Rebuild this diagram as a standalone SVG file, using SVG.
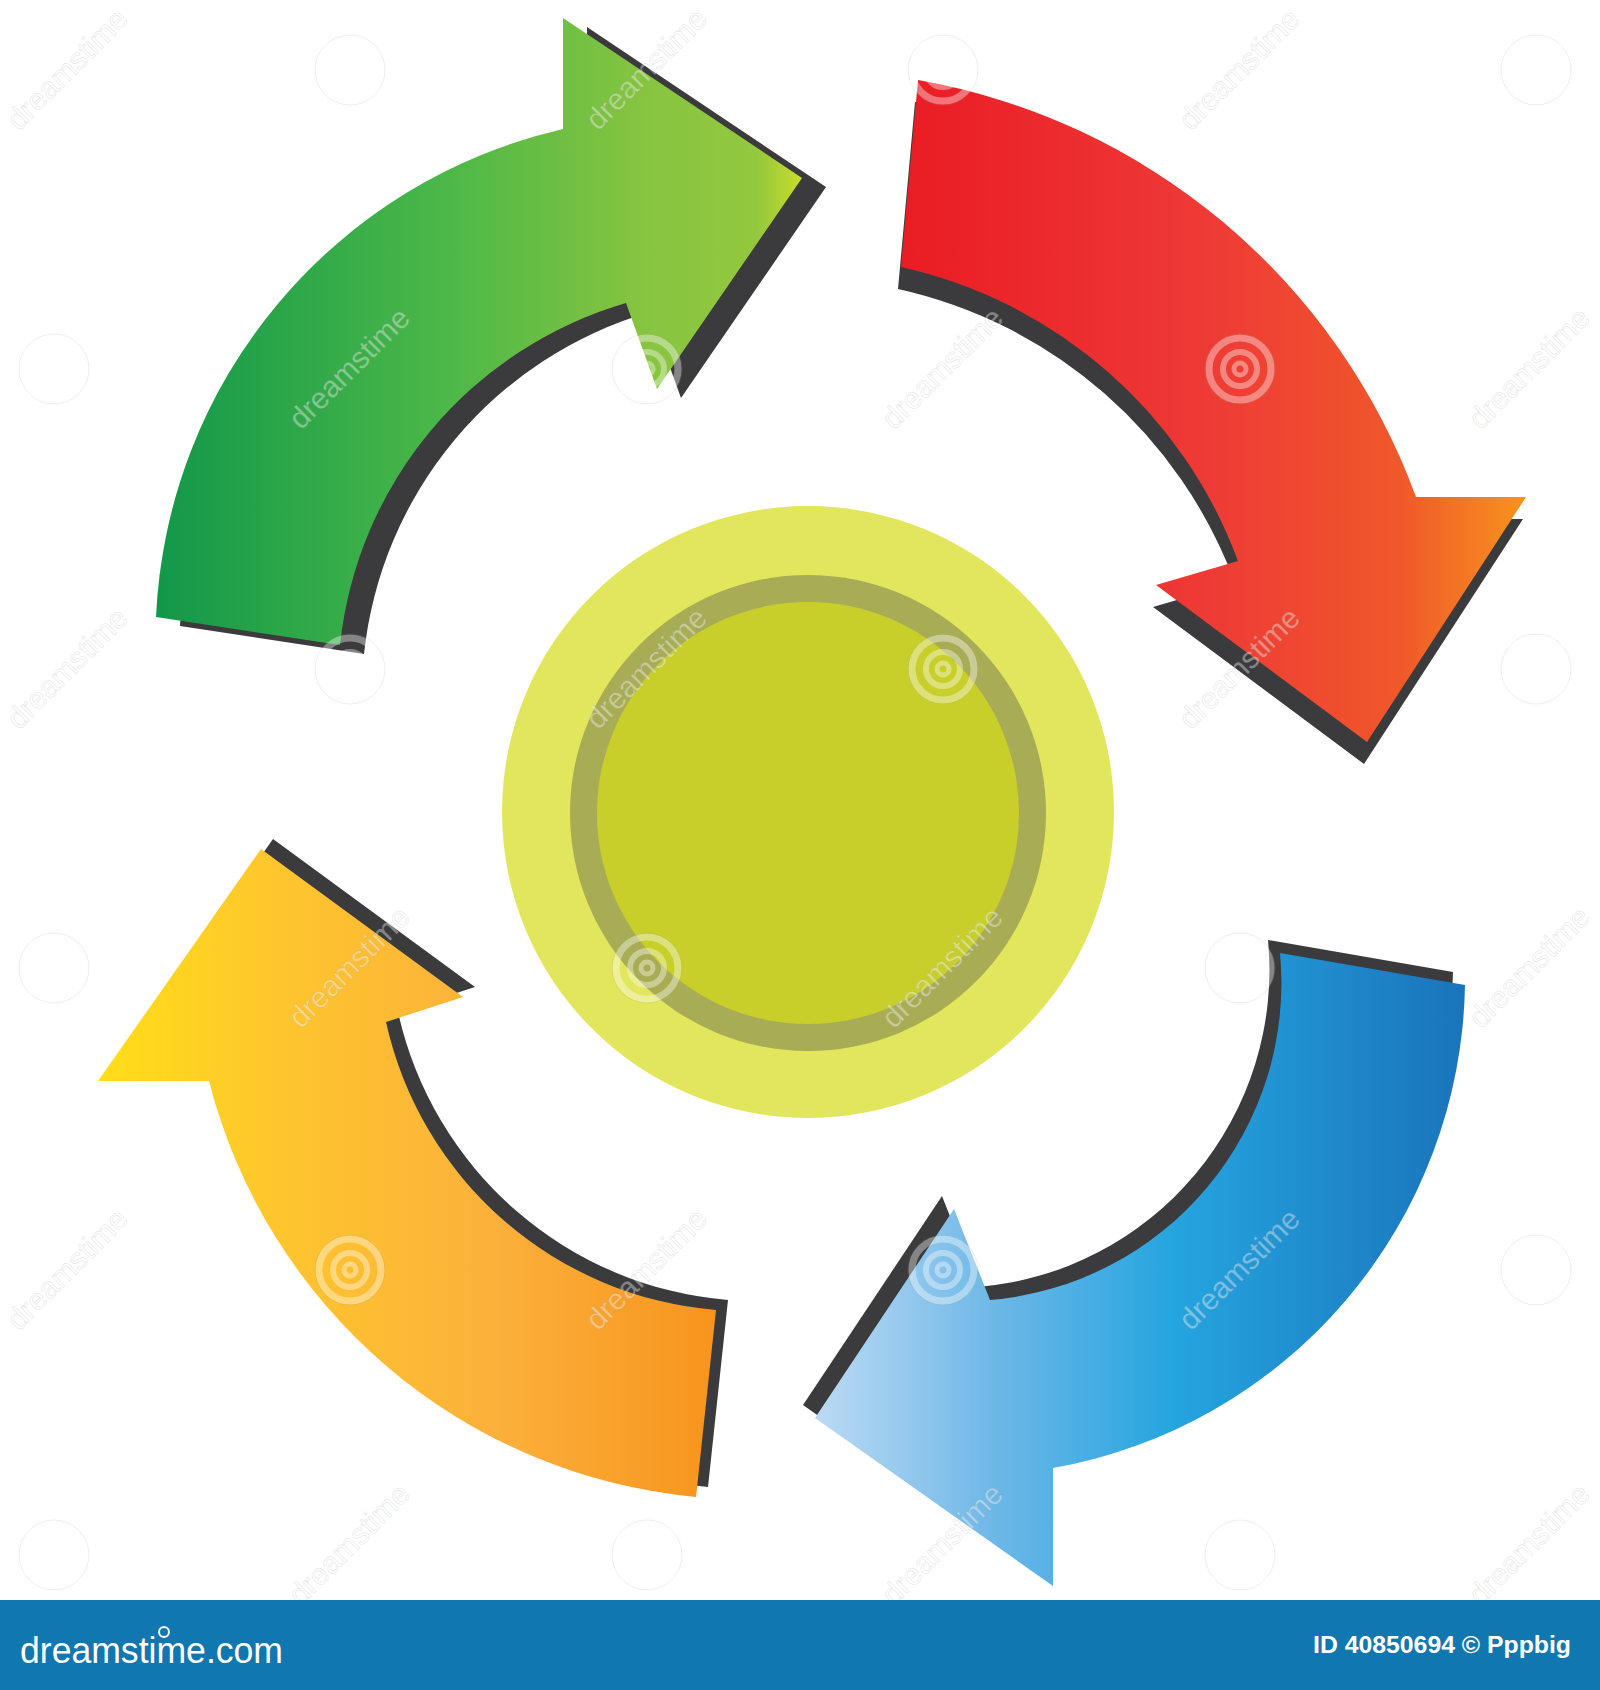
<svg xmlns="http://www.w3.org/2000/svg" width="1600" height="1690" viewBox="0 0 1600 1690">
<style>
.shadow{fill:#3b3b3d}
.wm{font-family:"Liberation Sans",Arial,sans-serif;font-size:30px;fill:#ffffff;fill-opacity:.38;stroke:#8c8c8c;stroke-opacity:.2;stroke-width:.8;text-anchor:middle}
.sp{fill:none;stroke:#ffffff;stroke-opacity:.38}
.spo{fill:none;stroke:#9a9a9a;stroke-opacity:.18;stroke-width:1}
.logo{font-family:"Liberation Sans",Arial,sans-serif;font-size:36px;fill:#ffffff}
.credit{font-family:"Liberation Sans",Arial,sans-serif;font-size:24px;font-weight:bold;fill:#ffffff;text-anchor:end}
</style>
<defs>
<linearGradient id="gGreen" x1="0" y1="0" x2="1" y2="0">
<stop offset="0" stop-color="#12984a"/>
<stop offset="0.45" stop-color="#4cb848"/>
<stop offset="0.75" stop-color="#86c440"/>
<stop offset="0.93" stop-color="#93c83e"/>
<stop offset="1" stop-color="#cadc2a"/>
</linearGradient>
<linearGradient id="gRed" x1="0" y1="0" x2="1" y2="0">
<stop offset="0" stop-color="#ea1c24"/>
<stop offset="0.5" stop-color="#ee3b36"/>
<stop offset="0.8" stop-color="#f0582a"/>
<stop offset="1" stop-color="#f7941d"/>
</linearGradient>
<linearGradient id="gBlue" x1="0" y1="0" x2="1" y2="0">
<stop offset="0" stop-color="#bcdaf3"/>
<stop offset="0.28" stop-color="#6cb7e7"/>
<stop offset="0.55" stop-color="#25a5df"/>
<stop offset="1" stop-color="#1a74bb"/>
</linearGradient>
<linearGradient id="gYellow" x1="0" y1="0" x2="1" y2="0">
<stop offset="0" stop-color="#ffde17"/>
<stop offset="0.3" stop-color="#fec52e"/>
<stop offset="0.65" stop-color="#fbb03b"/>
<stop offset="1" stop-color="#f7941d"/>
</linearGradient>
<path id="greenShape" d="M156 617 A525 525 0 0 1 563 129 L563 18 L802 178 L657 389 L626 303 A400 400 0 0 0 340 645 Z"/>
<path id="redShape" d="M918 80 A650 650 0 0 1 1416 497 L1526 497 L1367 742 L1156 585 L1238 561 A467 467 0 0 0 901 267 Z"/>
<path id="blueShape" d="M1465 985 A499 499 0 0 1 1053 1468 L1053 1586 L815 1418 L954 1209 L990 1300 A318 318 0 0 0 1280 953 Z"/>
<path id="yellowShape" d="M696 1497 A556 556 0 0 1 209 1081 L98 1081 L261 849 L463 997 L386 1022 A369 369 0 0 0 716 1310 Z"/>
<g id="spiral">
<circle r="31" class="sp" stroke-width="7"/>
<circle r="17" class="sp" stroke-width="6"/>
<circle r="6" class="sp" stroke-width="5"/>
<circle r="35" class="spo"/>
</g>
</defs>

<rect x="0" y="0" width="1600" height="1690" fill="#ffffff"/>

<g id="center-node">
<circle cx="808" cy="812" r="306" fill="#e2e65c"/>
<circle cx="808" cy="813" r="238" fill="#a8ad55"/>
<circle cx="808" cy="813" r="211" fill="#c8cf2b"/>
</g>

<g id="connectors">
<g id="arrow-green">
<use href="#greenShape" class="shadow" transform="translate(24,9)"/>
<use href="#greenShape" fill="url(#gGreen)"/>
</g>
<g id="arrow-red">
<use href="#redShape" class="shadow" transform="translate(-3,22)"/>
<use href="#redShape" fill="url(#gRed)"/>
</g>
<g id="arrow-blue">
<use href="#blueShape" class="shadow" transform="translate(-12,-13)"/>
<use href="#blueShape" fill="url(#gBlue)"/>
</g>
<g id="arrow-yellow">
<use href="#yellowShape" class="shadow" transform="translate(12,-10)"/>
<use href="#yellowShape" fill="url(#gYellow)"/>
</g>
</g>

<g id="watermark">
<text class="wm" transform="translate(68,70) rotate(-45)" y="9">dreamstime</text>
<text class="wm" transform="translate(647,70) rotate(-45)" y="9">dreamstime</text>
<text class="wm" transform="translate(1240,70) rotate(-45)" y="9">dreamstime</text>
<text class="wm" transform="translate(350,369) rotate(-45)" y="9">dreamstime</text>
<text class="wm" transform="translate(943,369) rotate(-45)" y="9">dreamstime</text>
<text class="wm" transform="translate(1530,369) rotate(-45)" y="9">dreamstime</text>
<text class="wm" transform="translate(68,669) rotate(-45)" y="9">dreamstime</text>
<text class="wm" transform="translate(647,669) rotate(-45)" y="9">dreamstime</text>
<text class="wm" transform="translate(1240,669) rotate(-45)" y="9">dreamstime</text>
<text class="wm" transform="translate(350,968) rotate(-45)" y="9">dreamstime</text>
<text class="wm" transform="translate(943,968) rotate(-45)" y="9">dreamstime</text>
<text class="wm" transform="translate(1530,968) rotate(-45)" y="9">dreamstime</text>
<text class="wm" transform="translate(68,1270) rotate(-45)" y="9">dreamstime</text>
<text class="wm" transform="translate(647,1270) rotate(-45)" y="9">dreamstime</text>
<text class="wm" transform="translate(1240,1270) rotate(-45)" y="9">dreamstime</text>
<text class="wm" transform="translate(350,1545) rotate(-45)" y="9">dreamstime</text>
<text class="wm" transform="translate(943,1545) rotate(-45)" y="9">dreamstime</text>
<text class="wm" transform="translate(1530,1545) rotate(-45)" y="9">dreamstime</text>
<use href="#spiral" x="350" y="70"/>
<use href="#spiral" x="943" y="70"/>
<use href="#spiral" x="1536" y="70"/>
<use href="#spiral" x="54" y="369"/>
<use href="#spiral" x="647" y="369"/>
<use href="#spiral" x="1240" y="369"/>
<use href="#spiral" x="350" y="669"/>
<use href="#spiral" x="943" y="669"/>
<use href="#spiral" x="1536" y="669"/>
<use href="#spiral" x="54" y="968"/>
<use href="#spiral" x="647" y="968"/>
<use href="#spiral" x="1240" y="968"/>
<use href="#spiral" x="350" y="1270"/>
<use href="#spiral" x="943" y="1270"/>
<use href="#spiral" x="1536" y="1270"/>
<use href="#spiral" x="54" y="1555"/>
<use href="#spiral" x="647" y="1555"/>
<use href="#spiral" x="1240" y="1555"/>
</g>

<g id="footer">
<rect x="0" y="1600" width="1600" height="90" fill="#1177b0"/>
<text class="logo" x="20" y="1663" textLength="263" lengthAdjust="spacingAndGlyphs">dreamstime.com</text>
<circle cx="164" cy="1632" r="5" fill="none" stroke="#ffffff" stroke-width="2"/>
<text class="credit" x="1571" y="1653" textLength="258" lengthAdjust="spacingAndGlyphs">ID 40850694 © Pppbig</text>
</g>
</svg>
